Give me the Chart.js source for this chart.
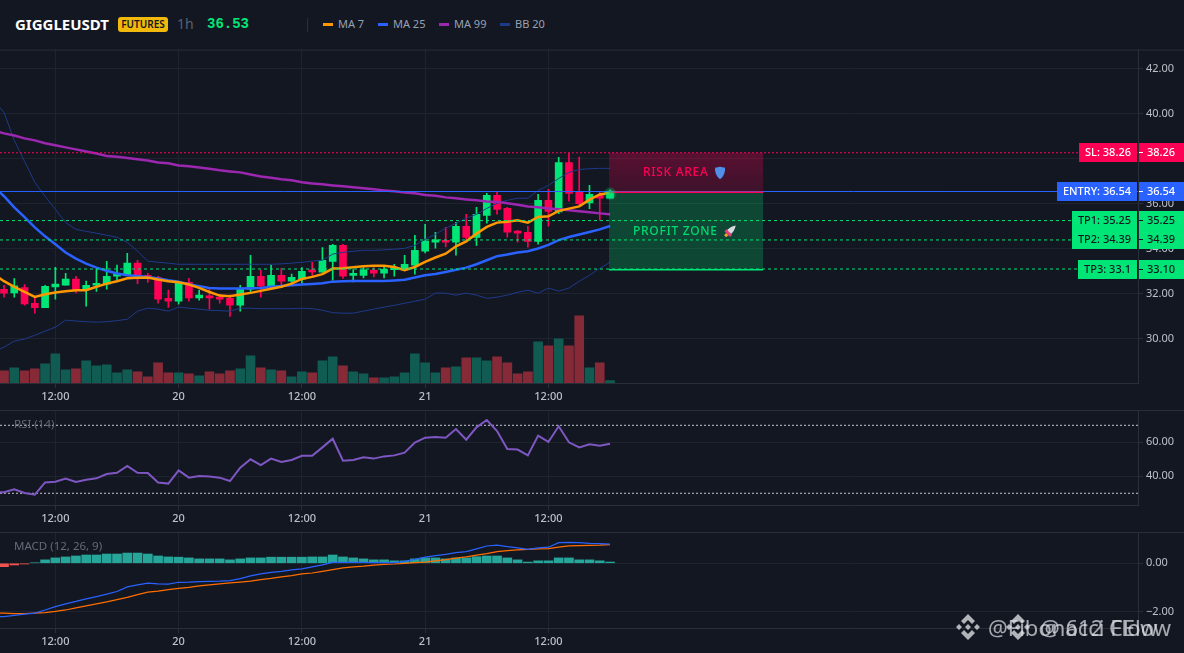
<!DOCTYPE html>
<html>
<head>
<meta charset="utf-8">
<title>GIGGLEUSDT</title>
<script src="https://cdn.jsdelivr.net/npm/chart.js@4/dist/chart.umd.min.js"></script>
<style>
  html, body { margin: 0; padding: 0; background: #131722; overflow: hidden; }
  body { width: 1184px; height: 653px; position: relative; font-family: "Noto Sans", sans-serif; }
  canvas { position: absolute; left: 0; }
  #chartMain { top: 40px; }
  #chartRsi { top: 400px; }
  #chartMacd { top: 522px; }
  .txt { position: absolute; white-space: nowrap; z-index: 5; }
  .swatch { position: absolute; width: 10px; height: 3px; top: 23px; z-index: 5; }
  .legend { top: 16px; font-size: 11px; color: #98a1b3; }
  .label { font-size: 11.5px; color: #646a76; }
  .wm { font-size: 22px; color: rgba(222, 224, 228, 0.72); top: 612px; }
  svg { position: absolute; z-index: 5; }
</style>
</head>
<body>
<div class="txt" style="left:15px;top:14px;font-size:15px;font-weight:700;color:#fff">GIGGLEUSDT</div>
<div class="txt" style="left:118px;top:17px;width:50px;height:15px;line-height:15px;text-align:center;background:#f0b90b;border-radius:3px;font-size:10px;font-weight:600;color:#131722">FUTURES</div>
<div class="txt" style="left:177px;top:14px;font-size:14px;color:#586070">1h</div>
<div class="txt" style="left:207px;top:16px;font-family:'Liberation Mono',monospace;font-size:14px;font-weight:700;color:#00e676">36.53</div>
<div class="txt" style="left:307px;top:18px;width:1px;height:14px;background:#2a2e39"></div>
<div class="swatch" style="left:323px;background:#ff9800"></div>
<div class="txt legend" style="left:338px">MA 7</div>
<div class="swatch" style="left:378px;background:#2962ff"></div>
<div class="txt legend" style="left:393px">MA 25</div>
<div class="swatch" style="left:439px;background:#9c27b0"></div>
<div class="txt legend" style="left:454px">MA 99</div>
<div class="swatch" style="left:500px;background:#1e3a8a"></div>
<div class="txt legend" style="left:515px">BB 20</div>
<div class="txt label" style="left:14px;top:416px">RSI (14)</div>
<div class="txt label" style="left:14px;top:538px">MACD (12, 26, 9)</div>

<canvas id="chartMain" width="1184" height="370"></canvas>
<canvas id="chartRsi" width="1184" height="132"></canvas>
<canvas id="chartMacd" width="1184" height="131"></canvas>

<svg style="left:954px;top:613px" width="28" height="28" viewBox="0 0 28 28" fill="rgba(222,224,228,0.78)"><path d="M14 1l7 7-3 3-4-4-4 4-3-3zM14 27l7-7-3-3-4 4-4-4-3 3zM5 11l3 3-3 3-3-3zM23 11l3 3-3 3-3-3zM14 11l3 3-3 3-3-3z"/></svg>
<svg style="left:1004px;top:613px" width="28" height="28" viewBox="0 0 28 28" fill="rgba(222,224,228,0.78)"><path d="M14 1l7 7-3 3-4-4-4 4-3-3zM14 27l7-7-3-3-4 4-4-4-3 3zM5 11l3 3-3 3-3-3zM23 11l3 3-3 3-3-3zM14 11l3 3-3 3-3-3z"/></svg>
<div class="txt wm" style="left:988px">@Fibonacci Flow</div>
<div class="txt wm" style="left:1040px">@ 612 CElow</div>

<script>
// candles, one per hour
const open = [32.20,32.04,32.28,31.58,31.38,32.30,32.38,32.65,32.20,32.38,32.43,32.78,32.82,33.36,32.82,32.72,31.80,31.67,32.51,31.82,31.89,31.85,31.80,31.49,32.20,32.78,32.34,32.82,32.56,32.66,33.02,32.96,33.44,34.15,32.82,32.82,33.05,32.91,33.07,33.12,33.27,33.89,34.29,34.37,34.29,34.99,34.50,35.48,36.37,35.79,34.77,34.73,34.33,36.15,35.63,37.83,36.52,36.03,36.37,36.25];
const high = [32.38,32.68,32.41,31.86,32.38,33.18,32.91,32.78,32.56,33.10,33.44,33.27,33.80,33.49,32.91,32.78,32.16,32.47,32.69,32.16,32.20,31.98,31.95,32.38,33.71,33.05,33.27,33.13,32.87,33.16,33.40,34.05,34.20,34.20,33.07,33.16,33.16,33.24,33.31,33.71,34.60,35.08,34.73,34.95,35.17,35.53,35.84,36.46,36.52,35.84,34.82,34.99,36.41,36.64,38.06,38.25,38.07,36.82,36.52,36.60];
const low = [31.85,31.85,31.49,31.14,31.38,31.76,32.38,32.04,31.45,32.11,32.20,32.60,32.82,32.45,32.51,31.58,31.40,31.54,31.67,31.72,31.32,31.58,31.00,31.23,32.01,31.85,32.34,32.38,32.38,32.46,32.82,32.96,32.60,32.68,32.53,32.71,32.75,32.71,32.78,33.05,32.87,33.81,34.02,34.08,33.71,34.35,34.15,35.13,35.53,34.51,34.29,34.07,34.20,35.00,35.56,36.11,35.96,35.78,35.26,36.25];
const close = [32.03,32.35,31.55,31.38,32.33,32.43,32.65,32.19,32.38,32.47,32.78,32.82,33.36,32.82,32.72,31.76,31.67,32.47,31.82,31.94,31.82,31.76,31.49,32.20,32.78,32.34,32.82,32.56,32.73,33.00,32.97,33.49,34.15,32.78,32.87,33.06,32.91,33.09,33.16,33.31,33.93,34.33,34.40,34.29,34.99,34.50,35.53,36.37,35.75,34.73,34.69,34.33,36.15,35.66,37.83,36.46,36.00,36.42,36.25,36.53];
const volume = [12.3,15.3,12.3,14.3,19.3,29.3,13.3,14.3,22.3,17.3,18.3,10.3,13.3,11.3,6.3,20.3,10.3,10.3,9.3,7.3,11.3,9.3,12.3,14.3,27.3,15.3,13.3,12.3,6.3,11.3,10.3,22.3,26.3,17.3,11.3,9.3,5.3,5.3,6.3,10.3,29.3,20.3,10.3,15.3,16.3,25.3,25.3,22.3,26.3,20.3,9.3,11.3,41.3,37.3,44.3,37.3,67.3,15.3,20.3,2.3];
const ma7 = [32.56,32.31,32.08,31.86,31.98,32.06,32.11,32.16,32.16,32.31,32.45,32.56,32.69,32.71,32.72,32.63,32.56,32.51,32.41,32.26,32.08,31.92,31.89,31.97,32.04,32.13,32.22,32.31,32.45,32.66,32.75,32.87,33.12,33.13,33.18,33.22,33.24,33.24,33.19,33.05,33.19,33.42,33.61,33.78,34.11,34.33,34.67,34.97,35.16,35.20,35.26,35.16,35.41,35.44,35.68,35.78,35.88,36.18,36.41,36.49];
const ma25 = [36.33,35.84,35.40,34.95,34.55,34.20,33.83,33.56,33.34,33.16,33.02,32.90,32.82,32.79,32.75,32.68,32.60,32.54,32.43,32.34,32.26,32.23,32.23,32.23,32.25,32.26,32.31,32.35,32.38,32.41,32.44,32.47,32.54,32.56,32.57,32.57,32.57,32.57,32.59,32.62,32.72,32.82,32.88,32.97,33.07,33.16,33.31,33.49,33.67,33.74,33.83,33.89,34.01,34.17,34.38,34.52,34.63,34.74,34.86,35.01];
const ma99 = [39.12,39.03,38.90,38.81,38.68,38.59,38.50,38.41,38.32,38.23,38.12,38.08,38.03,37.97,37.92,37.83,37.79,37.70,37.66,37.61,37.55,37.48,37.43,37.39,37.30,37.21,37.15,37.08,37.04,36.95,36.90,36.86,36.81,36.77,36.73,36.68,36.64,36.59,36.55,36.50,36.46,36.39,36.35,36.28,36.24,36.19,36.15,36.10,36.08,36.02,35.95,35.88,35.84,35.79,35.75,35.71,35.66,35.62,35.57,35.53];
const bbUpper = [40.05,38.81,37.88,36.95,36.33,35.75,35.17,34.86,34.77,34.69,34.60,34.51,34.29,33.89,33.45,33.40,33.36,33.31,33.31,33.31,33.31,33.31,33.31,33.31,33.31,33.31,33.31,33.33,33.36,33.40,33.45,33.49,33.76,33.84,33.89,33.93,33.93,33.95,33.98,34.02,34.15,34.42,34.64,34.91,35.13,35.35,35.53,35.79,36.02,36.15,36.24,36.24,36.59,36.81,37.12,37.39,37.52,37.55,37.57,37.57];
const bbLower = [29.63,29.90,29.99,30.16,30.34,30.52,30.83,30.79,30.76,30.74,30.76,30.81,30.87,31.23,31.36,31.32,31.23,31.41,31.36,31.32,31.27,31.25,31.23,31.36,31.36,31.34,31.34,31.34,31.34,31.36,31.34,31.27,31.16,31.14,31.14,31.23,31.32,31.41,31.49,31.58,31.67,31.76,32.03,32.03,31.94,32.03,31.94,31.80,31.85,31.94,32.07,32.16,32.03,32.25,32.12,32.25,32.56,32.82,33.13,33.40];
const rsi = [30.6,32.3,30.2,29.2,36.4,36.8,38.6,36.7,38.0,38.8,41.3,42.1,46.1,42.1,41.9,36.3,35.7,43.5,39.2,40.2,39.8,39.2,37.2,45.1,50.0,46.6,50.4,48.4,49.6,52.1,52.1,57.0,62.1,49.2,49.6,51.2,50.4,51.7,52.3,53.9,59.8,62.7,63.1,62.7,67.8,61.5,68.8,73.1,66.6,56.1,55.7,52.3,63.9,60.2,69.4,60.0,57.0,58.8,58.0,59.2];
const macdLine = [-2.19,-2.14,-2.09,-2.05,-1.92,-1.78,-1.67,-1.57,-1.46,-1.37,-1.27,-1.16,-0.97,-0.89,-0.82,-0.85,-0.86,-0.78,-0.77,-0.75,-0.74,-0.73,-0.71,-0.63,-0.52,-0.44,-0.37,-0.33,-0.27,-0.23,-0.15,-0.07,0.04,0.04,0.04,0.04,0.03,0.03,0.03,0.08,0.16,0.25,0.31,0.37,0.44,0.48,0.59,0.71,0.75,0.68,0.63,0.57,0.63,0.66,0.85,0.86,0.85,0.82,0.81,0.79];
const signalLine = [-2.05,-2.07,-2.07,-2.05,-2.03,-1.98,-1.92,-1.83,-1.75,-1.67,-1.59,-1.49,-1.40,-1.29,-1.19,-1.14,-1.08,-1.03,-0.99,-0.93,-0.89,-0.85,-0.81,-0.77,-0.73,-0.67,-0.62,-0.56,-0.51,-0.44,-0.40,-0.33,-0.26,-0.19,-0.15,-0.12,-0.08,-0.05,-0.03,0.00,0.03,0.05,0.10,0.15,0.21,0.26,0.33,0.40,0.48,0.52,0.55,0.57,0.59,0.60,0.66,0.71,0.73,0.74,0.75,0.77];
const macdHist = [-0.14,-0.07,-0.03,0.02,0.14,0.22,0.26,0.30,0.34,0.34,0.38,0.38,0.42,0.42,0.38,0.30,0.26,0.25,0.22,0.18,0.18,0.18,0.14,0.18,0.22,0.22,0.25,0.25,0.25,0.25,0.26,0.26,0.34,0.26,0.22,0.18,0.14,0.14,0.10,0.10,0.18,0.22,0.22,0.18,0.22,0.22,0.27,0.30,0.30,0.22,0.14,0.05,0.10,0.10,0.22,0.22,0.14,0.14,0.10,0.05];

// value of each line one hour before the first candle, just off the left edge
const ma7Before = 32.87, ma25Before = 36.77, ma99Before = 39.25;
const bbUpperBefore = 40.58, bbLowerBefore = 29.46;
const rsiBefore = 30.6, macdBefore = -2.2, signalBefore = -2.05;

// x axis
const tickIndex = [5, 17, 29, 41, 53];
const tickLabels = ['12:00', '20', '12:00', '21', '12:00'];
const xMin = -0.39, xMax = 110.4;

// y axes
const priceTicks = [30, 32, 34, 36, 38, 40, 42];
const rsiTicks = [40, 60];
const macdTicks = [-2, 0];
const rsiBands = [70, 30];

// trade levels
const levelNames = ['SL: 38.26', 'ENTRY: 36.54', 'TP1: 35.25', 'TP2: 34.39', 'TP3: 33.1'];
const levelValues = [38.26, 36.54, 35.25, 34.39, 33.1];
const levelColors = ['#ff0055', '#2962ff', '#00e676', '#00e676', '#00e676'];
const levelText = ['#ffffff', '#ffffff', '#131722', '#131722', '#131722'];
const levelDash = [[2, 2], [], [3, 3], [3, 3], [3, 3]];
const zoneEnd = 73.9;

const GRID = '#1f232e', EDGE = '#2a2e39', TICK = '#bcc0c8';
const UP = '#00e676', DOWN = '#ff0055';
const FONT = '"Noto Sans", sans-serif';

const hours = open.map((_, i) => i);
const isUp = hours.map(i => close[i] >= open[i]);

function series(values) {
  return hours.map(i => ({ x: i, y: values[i] }));
}

function lineSet(values, before, color, width, order) {
  return {
    type: 'line',
    data: [{ x: -1, y: before }, ...series(values)],
    borderColor: color, borderWidth: width, pointRadius: 0, tension: 0, order: order
  };
}

function hLine(value, color, dash, order) {
  return {
    type: 'line',
    data: [{ x: xMin, y: value }, { x: xMax, y: value }],
    borderColor: color, borderWidth: 1, borderDash: dash, pointRadius: 0, order: order
  };
}

// top and bottom edges of a pane
const paneFrame = {
  id: 'paneFrame',
  beforeDatasetsDraw(chart) {
    const c = chart.ctx, a = chart.chartArea;
    c.save();
    c.strokeStyle = EDGE;
    c.lineWidth = 1;
    c.beginPath();
    c.moveTo(0, a.top + 0.5); c.lineTo(chart.width, a.top + 0.5);
    c.moveTo(0, a.bottom + 0.5); c.lineTo(a.right, a.bottom + 0.5);
    c.stroke();
    c.restore();
  }
};

// risk / profit boxes right of the last candle
const zones = {
  id: 'zones',
  afterDatasetsDraw(chart) {
    const c = chart.ctx, x = chart.scales.x, y = chart.scales.y;
    const x0 = x.getPixelForValue(59) - 1, x1 = x.getPixelForValue(zoneEnd);
    const sl = y.getPixelForValue(levelValues[0]), en = y.getPixelForValue(levelValues[1]), tp = y.getPixelForValue(levelValues[4]);
    const riskY = (sl + en) / 2 + 0.5, profitY = (en + tp) / 2 + 1;
    c.save();
    let g = c.createLinearGradient(0, sl, 0, en);
    g.addColorStop(0, 'rgba(255,0,85,0.30)');
    g.addColorStop(1, 'rgba(255,0,85,0.18)');
    c.fillStyle = g;
    c.fillRect(x0, sl, x1 - x0, en - sl);
    c.fillStyle = 'rgba(0,230,118,0.24)';
    c.fillRect(x0, en, x1 - x0, tp - en);
    c.fillStyle = DOWN;
    c.fillRect(x0, en, x1 - x0, 1.5);
    c.fillStyle = UP;
    c.fillRect(x0, tp, x1 - x0, 1.5);

    c.font = '500 12px ' + FONT;
    c.letterSpacing = '0.7px';
    c.textBaseline = 'middle';
    c.textAlign = 'left';
    c.fillStyle = DOWN;
    c.fillText('RISK AREA', x0 + 34, riskY);
    c.fillStyle = '#00d96f';
    c.fillText('PROFIT ZONE', x0 + 24, profitY);
    c.letterSpacing = '0px';

    // glow on the last candle
    const gx = x.getPixelForValue(59), gy = y.getPixelForValue(close[59]) + 2;
    g = c.createRadialGradient(gx, gy, 1, gx, gy, 7);
    g.addColorStop(0, 'rgba(0,230,118,0.8)');
    g.addColorStop(1, 'rgba(0,230,118,0)');
    c.fillStyle = g;
    c.fillRect(gx - 7, gy - 7, 14, 14);

    // shield
    const sx = x0 + 111;
    c.fillStyle = '#4f8fe8';
    c.beginPath();
    c.moveTo(sx - 5, riskY - 5); c.lineTo(sx, riskY - 6); c.lineTo(sx + 5, riskY - 5);
    c.quadraticCurveTo(sx + 5.5, riskY + 2.5, sx, riskY + 6.5);
    c.quadraticCurveTo(sx - 5.5, riskY + 2.5, sx - 5, riskY - 5);
    c.fill();

    // rocket
    c.translate(x0 + 121, profitY);
    c.rotate(Math.PI / 4);
    c.fillStyle = '#d8dce2';
    c.beginPath();
    c.moveTo(0, -8); c.quadraticCurveTo(3.5, -3, 2.5, 3); c.lineTo(-2.5, 3); c.quadraticCurveTo(-3.5, -3, 0, -8);
    c.fill();
    c.fillStyle = '#d8447a';
    c.fillRect(-4, 1, 8, 3);
    c.fillStyle = '#f0a030';
    c.fillRect(-1.5, 4, 3, 3);
    c.restore();
  }
};

// price tags over the right axis
const priceTags = {
  id: 'priceTags',
  afterDraw(chart) {
    const c = chart.ctx, a = chart.chartArea, y = chart.scales.y;
    c.save();
    c.font = '500 11px ' + FONT;
    c.textBaseline = 'middle';
    levelValues.forEach((v, i) => {
      const py = y.getPixelForValue(v);
      const top = Math.round(py - 9.5);
      const w = Math.round(c.measureText(levelNames[i]).width) + 12;
      c.fillStyle = levelColors[i];
      c.fillRect(a.right - 1 - w, top, w, 19);
      c.fillRect(a.right + 1, top, chart.width - a.right - 1, 19);
      c.fillStyle = levelText[i];
      c.textAlign = 'center';
      c.fillText(levelNames[i], a.right - 1 - w / 2, top + 10);
      c.textAlign = 'left';
      c.fillText(v.toFixed(2), a.right + 9, top + 10);
      c.fillRect(a.right + 1, top + 9, 4, 1);
    });
    c.restore();
  }
};

function xAxis(height) {
  return {
    type: 'linear', min: xMin, max: xMax, bounds: 'data', offset: false,
    afterBuildTicks: s => { s.ticks = tickIndex.map(v => ({ value: v })); },
    afterFit: s => { s.height = height; },
    ticks: {
      autoSkip: false, maxRotation: 0, padding: 2, color: TICK,
      font: { family: FONT, size: 11, weight: '500' },
      callback: (v, i) => tickLabels[i]
    },
    grid: { offset: false, color: GRID, tickColor: EDGE, tickLength: 5 },
    border: { display: false }
  };
}

function yAxis(min, max, list) {
  return {
    position: 'right', min: min, max: max, bounds: 'data',
    afterBuildTicks: s => { s.ticks = list.map(v => ({ value: v })); },
    afterFit: s => { s.width = 46; },
    ticks: {
      padding: 3, color: TICK,
      font: { family: FONT, size: 11 },
      callback: v => v.toFixed(2).replace('-', '\u2212')
    },
    grid: { color: GRID, tickColor: EDGE, tickLength: 5 },
    border: { color: EDGE }
  };
}

Chart.defaults.animation = false;
Chart.defaults.responsive = false;
Chart.defaults.events = [];
Chart.defaults.plugins.legend.display = false;
Chart.defaults.plugins.tooltip.enabled = false;

new Chart(document.getElementById('chartMain'), {
  type: 'bar',
  data: {
    datasets: [
      {
        data: series(volume), yAxisID: 'yVol', grouped: false, barThickness: 9, order: 20,
        backgroundColor: hours.map(i => isUp[i] ? '#105c52' : '#862a38')
      },
      {
        data: hours.map(i => ({ x: i, y: [low[i], high[i]] })), grouped: false, barThickness: 1, order: 19,
        backgroundColor: hours.map(i => isUp[i] ? UP : DOWN)
      },
      {
        data: hours.map(i => ({ x: i, y: [open[i], close[i]] })), grouped: false, barThickness: 7, minBarLength: 2, order: 18,
        backgroundColor: hours.map(i => isUp[i] ? UP : DOWN)
      },
      lineSet(bbUpper, bbUpperBefore, '#1e3a8a', 1, 17),
      lineSet(bbLower, bbLowerBefore, '#1e3a8a', 1, 16),
      lineSet(ma99, ma99Before, '#9c27b0', 2.5, 15),
      lineSet(ma25, ma25Before, '#2962ff', 2.5, 14),
      lineSet(ma7, ma7Before, '#ff9800', 2.5, 13),
      ...levelValues.map((v, i) => hLine(v, levelColors[i], levelDash[i], 12 - i))
    ]
  },
  options: {
    layout: { padding: { top: 9 } },
    scales: {
      x: xAxis(27),
      y: yAxis(28.04, 42.84, priceTicks),
      yVol: { display: false, min: 0, max: 334 }
    }
  },
  plugins: [paneFrame, zones, priceTags]
});

new Chart(document.getElementById('chartRsi'), {
  type: 'line',
  data: {
    datasets: [
      lineSet(rsi, rsiBefore, '#7e57c2', 2, 1),
      ...rsiBands.map(v => hLine(v, '#c4c7cf', [2, 2], 2))
    ]
  },
  options: {
    layout: { padding: { top: 10 } },
    scales: { x: xAxis(27), y: yAxis(23.1, 79, rsiTicks) }
  },
  plugins: [paneFrame]
});

new Chart(document.getElementById('chartMacd'), {
  type: 'bar',
  data: {
    datasets: [
      {
        data: series(macdHist), grouped: false, barThickness: 9, order: 3,
        backgroundColor: macdHist.map(v => v >= 0 ? '#26a69a' : '#ef5350')
      },
      lineSet(signalLine, signalBefore, '#ff6d00', 1.25, 2),
      lineSet(macdLine, macdBefore, '#2962ff', 1.25, 1)
    ]
  },
  options: {
    layout: { padding: { top: 10 } },
    scales: { x: xAxis(25), y: yAxis(-2.66, 1.285, macdTicks) }
  },
  plugins: [paneFrame]
});
</script>
</body>
</html>
